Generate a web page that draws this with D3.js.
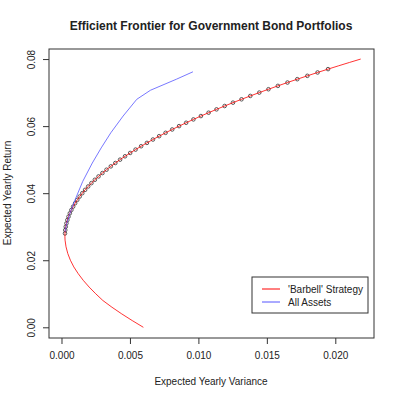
<!DOCTYPE html>
<html>
<head>
<meta charset="utf-8">
<script src="https://cdn.jsdelivr.net/npm/d3@7"></script>
<style>
  body { margin: 0; background: #fff; }
  text { font-family: "Liberation Sans", Arial, sans-serif; fill: #222; }
</style>
</head>
<body>
<div id="chart"></div>
<script>
// lower (inefficient) branch of the barbell frontier
const lowerReturn = [0.000, 0.002, 0.004, 0.006, 0.008, 0.010, 0.012, 0.014, 0.016, 0.018, 0.020, 0.022, 0.024, 0.026, 0.027];
const lowerVariance = [0.00598, 0.00517, 0.00440, 0.00368, 0.00302, 0.00250, 0.00202, 0.00159, 0.00122, 0.00090, 0.00065, 0.00046, 0.00033, 0.00026, 0.00025];

// efficient points plotted as circles
const pointReturn = [0.028, 0.029, 0.030, 0.031, 0.032, 0.033, 0.034, 0.035, 0.036, 0.037,
  0.038, 0.039, 0.040, 0.041, 0.042, 0.043, 0.044, 0.045, 0.046, 0.047,
  0.048, 0.049, 0.050, 0.051, 0.052, 0.053, 0.054, 0.055, 0.056, 0.057,
  0.058, 0.059, 0.060, 0.061, 0.062, 0.063, 0.064, 0.065, 0.066, 0.067,
  0.068, 0.069, 0.070, 0.071, 0.072, 0.073, 0.074, 0.075, 0.076, 0.077];
const pointVariance = [0.000255, 0.000275, 0.000311, 0.000362, 0.000429, 0.000511, 0.000608, 0.000722, 0.000850, 0.000994,
  0.001154, 0.001329, 0.001520, 0.001726, 0.001948, 0.002185, 0.002437, 0.002706, 0.002989, 0.003288,
  0.003603, 0.003933, 0.004279, 0.004640, 0.005017, 0.005409, 0.005816, 0.006240, 0.006678, 0.007132,
  0.007602, 0.008087, 0.008588, 0.009104, 0.009636, 0.010183, 0.010745, 0.011324, 0.011917, 0.012526,
  0.013151, 0.013791, 0.014447, 0.015118, 0.015805, 0.016507, 0.017224, 0.017958, 0.018706, 0.019470];

// end of the red line past the last circle
const tailReturn = [0.078, 0.079, 0.080];
const tailVariance = [0.020250, 0.021045, 0.021856];

// all assets frontier
const allReturn = [0.0285, 0.031, 0.034, 0.038, 0.0435, 0.049, 0.0535, 0.058, 0.063, 0.068, 0.0707, 0.0740, 0.0762];
const allVariance = [0.00026, 0.00038, 0.00062, 0.00099, 0.00155, 0.00225, 0.00290, 0.00360, 0.00450, 0.00550, 0.00650, 0.00840, 0.00960];

const xTicks = [0, 0.005, 0.010, 0.015, 0.020];
const yTicks = [0, 0.02, 0.04, 0.06, 0.08];
const legendLabels = ["'Barbell' Strategy", "All Assets"];
const legendColors = ["#ff0000", "#5555ff"];

function drawGraph() {
  var margin = { top: 49, right: 26, bottom: 62, left: 49 };
  var width = 400 - margin.left - margin.right;
  var height = 400 - margin.top - margin.bottom;

  var svg = d3.select("#chart").append("svg")
    .attr("width", 400)
    .attr("height", 400);

  var g = svg.append("g")
    .attr("transform", "translate(" + margin.left + "," + margin.top + ")");

  var x = d3.scaleLinear().domain([-0.000913, 0.022827]).range([0, width]);
  var y = d3.scaleLinear().domain([-0.00319, 0.0830]).range([height, 0]);

  // title
  svg.append("text")
    .attr("x", 211).attr("y", 30)
    .attr("text-anchor", "middle")
    .style("font-size", "12px").style("font-weight", "bold")
    .text("Efficient Frontier for Government Bond Portfolios");

  // axes
  var xAxis = g.append("g")
    .attr("transform", "translate(0," + height + ")")
    .call(d3.axisBottom(x).tickValues(xTicks).tickSize(6).tickPadding(8).tickFormat(d3.format(".3f")));
  var yAxis = g.append("g")
    .call(d3.axisLeft(y).tickValues(yTicks).tickSize(6).tickPadding(0).tickFormat(d3.format(".2f")));

  [xAxis, yAxis].forEach(a => {
    a.select(".domain").remove();
    a.selectAll("line").attr("stroke", "#333");
    a.selectAll("text").style("font-size", "10px").attr("fill", "#333");
  });
  yAxis.selectAll(".tick text")
    .attr("transform", "rotate(-90)")
    .attr("x", 0).attr("y", -18)
    .attr("dy", "0.35em")
    .attr("text-anchor", "middle");

  // box
  g.append("rect")
    .attr("width", width).attr("height", height)
    .attr("fill", "none").attr("stroke", "#333").attr("stroke-width", 1);

  // axis labels
  svg.append("text")
    .attr("x", 211).attr("y", 385)
    .attr("text-anchor", "middle")
    .style("font-size", "10px")
    .text("Expected Yearly Variance");
  svg.append("text")
    .attr("transform", "rotate(-90)")
    .attr("x", -193).attr("y", 11)
    .attr("text-anchor", "middle")
    .style("font-size", "10px")
    .text("Expected Yearly Return");

  var line = d3.line()
    .x(d => x(d[0]))
    .y(d => y(d[1]));

  var points = pointVariance.map((v, i) => [v, pointReturn[i]]);
  var redData = lowerVariance.map((v, i) => [v, lowerReturn[i]])
    .concat(points)
    .concat(tailVariance.map((v, i) => [v, tailReturn[i]]));
  var blueData = allVariance.map((v, i) => [v, allReturn[i]]);

  g.selectAll(".pt")
    .data(points)
    .enter().append("circle")
    .attr("class", "pt")
    .attr("cx", d => x(d[0]))
    .attr("cy", d => y(d[1]))
    .attr("r", 1.8)
    .attr("fill", "none")
    .attr("stroke", "#333")
    .attr("stroke-width", 0.8);

  g.append("path")
    .attr("d", line(redData))
    .attr("fill", "none").attr("stroke", legendColors[0]).attr("stroke-width", 0.8);

  g.append("path")
    .attr("d", line(blueData))
    .attr("fill", "none").attr("stroke", legendColors[1]).attr("stroke-width", 0.8);

  // legend
  var lg = svg.append("g").attr("transform", "translate(252,277)");
  lg.append("rect")
    .attr("width", 116).attr("height", 36)
    .attr("fill", "#fff").attr("stroke", "#333").attr("stroke-width", 1);
  legendLabels.forEach((label, i) => {
    lg.append("line")
      .attr("x1", 10).attr("x2", 28)
      .attr("y1", 12 + i * 13).attr("y2", 12 + i * 13)
      .attr("stroke", legendColors[i]).attr("stroke-width", 1);
    lg.append("text")
      .attr("x", 36).attr("y", 12 + i * 13)
      .attr("dy", "0.35em")
      .style("font-size", "10px")
      .text(label);
  });
}

window.onload = drawGraph;
</script>
</body>
</html>
